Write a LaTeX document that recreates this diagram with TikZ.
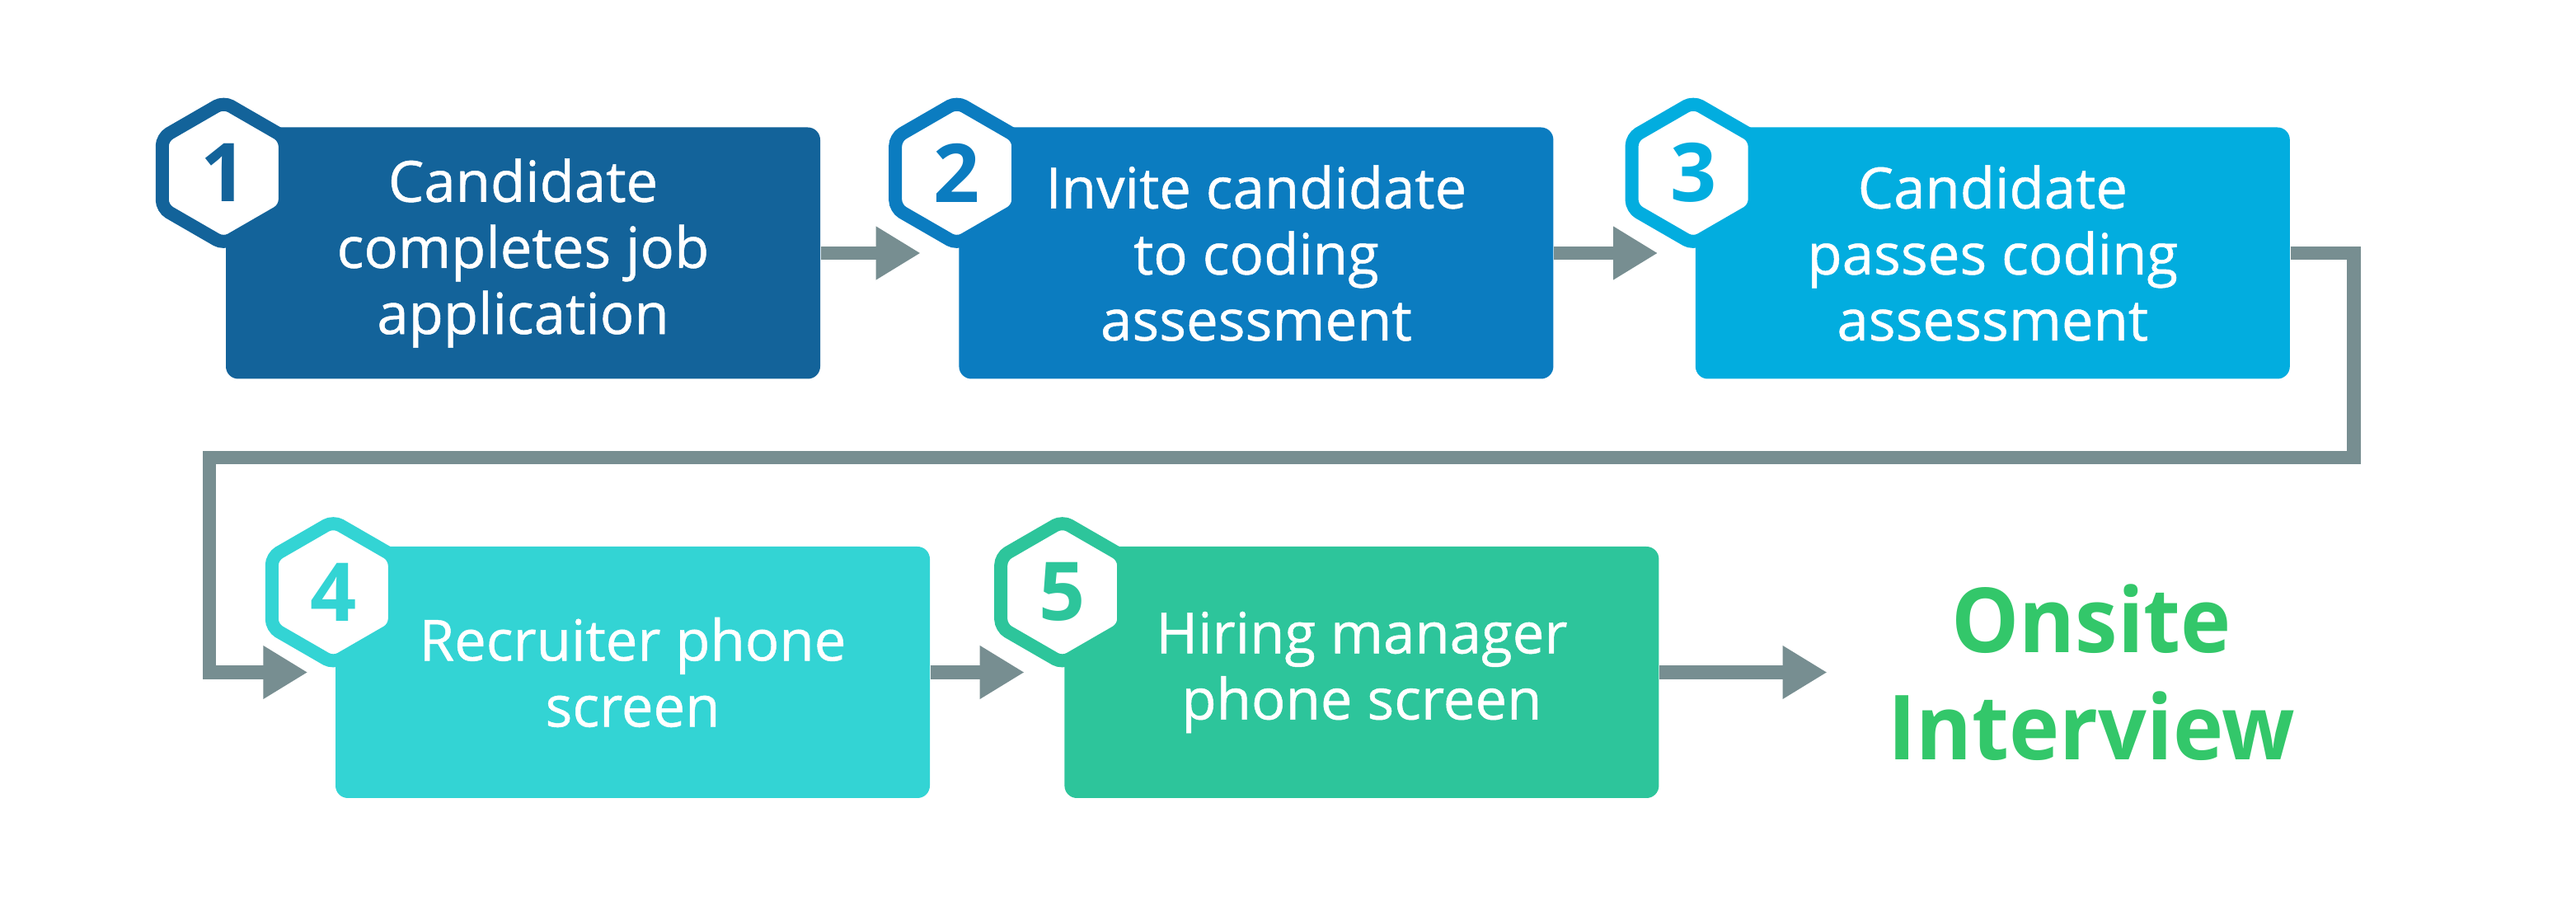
\documentclass[tikz,border=0pt]{standalone}
\usepackage{fontspec}
\setmainfont{Open Sans}
\newfontfamily\stagefont[FakeBold=0.7]{Open Sans}
\newfontfamily\goalfont[FakeStretch=0.95]{Open Sans}
\usetikzlibrary{shapes.geometric,arrows.meta,positioning}

\definecolor{stepone}{RGB}{19,99,154}
\definecolor{steptwo}{RGB}{11,124,192}
\definecolor{stepthree}{RGB}{2,173,223}
\definecolor{stepfour}{RGB}{51,212,212}
\definecolor{stepfive}{RGB}{45,197,155}
\definecolor{flowgray}{RGB}{119,142,145}
\definecolor{goalgreen}{RGB}{51,199,106}

\begin{document}
\begin{tikzpicture}[
    % Define styles for the hiring steps
    stage/.style={minimum width=7.21cm, minimum height=3.05cm, align=center, rounded corners=1.5mm, text=white, inner sep=0pt, font=\stagefont\fontsize{19.6}{22.8}\selectfont},
    badge/.style={regular polygon, regular polygon sides=6, shape border rotate=30, minimum size=1.72cm, inner sep=0pt, fill=white, line width=1.6mm, rounded corners=1mm, font=\fontsize{28}{30}\selectfont\bfseries},
    flow/.style={-{Triangle[length=5.4mm,width=6.1mm]}, line width=1.65mm, draw=flowgray},
    goal/.style={font=\goalfont\fontsize{31}{37}\selectfont\bfseries, text=goalgreen, align=center, inner sep=0pt}
]

% Fix the page size
\useasboundingbox (0,0) rectangle (31.25,10.88);

% First row of steps
\node[stage, fill=stepone] (b1) at (6.345,7.81) {Candidate\\completes job\\application};
\node[badge, draw=stepone, text=stepone] (h1) at ([xshift=-0.02cm, yshift=-0.56cm]b1.north west) {1};
\node[stage, fill=steptwo, right=1.67cm of b1] (b2) {Invite candidate\\to coding\\assessment};
\node[badge, draw=steptwo, text=steptwo] (h2) at ([xshift=-0.02cm, yshift=-0.56cm]b2.north west) {2};
\node[stage, fill=stepthree, right=1.71cm of b2] (b3) {Candidate\\passes coding\\assessment};
\node[badge, draw=stepthree, text=stepthree] (h3) at ([xshift=-0.02cm, yshift=-0.56cm]b3.north west) {3};

% Second row of steps
\node[stage, fill=stepfour] (b4) at (7.675,2.725) {Recruiter phone\\screen};
\node[badge, draw=stepfour, text=stepfour] (h4) at ([xshift=-0.02cm, yshift=-0.56cm]b4.north west) {4};
\node[stage, fill=stepfive, right=1.62cm of b4] (b5) {Hiring manager\\phone screen};
\node[badge, draw=stepfive, text=stepfive] (h5) at ([xshift=-0.02cm, yshift=-0.56cm]b5.north west) {5};

% Final goal
\node[goal] (goal) at (25.37,2.725) {Onsite\\Interview};

% Connections
\coordinate (lane) at (2.54,5.33);
\draw[flow, shorten >=4.6mm] (b1) -- (b2);
\draw[flow, shorten >=4.5mm] (b2) -- (b3);
\draw[flow, shorten >=3.3mm] (b3.east) -- ++(0.77,0) |- (lane) |- (b4.west);
\draw[flow, shorten >=4.8mm] (b4) -- (b5);
\draw[flow, shorten >=7.3mm] (b5) -- (goal);

\end{tikzpicture}
\end{document}
